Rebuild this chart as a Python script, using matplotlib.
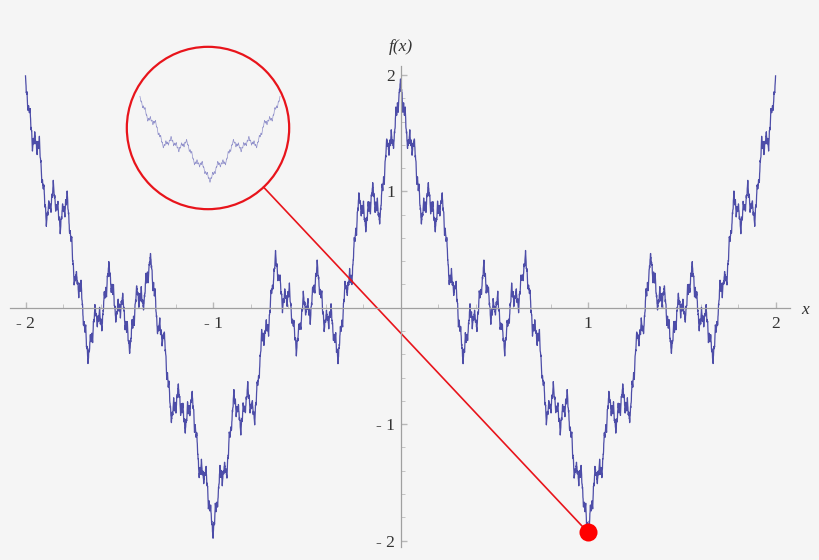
import numpy as np
import matplotlib
matplotlib.use("Agg")
import matplotlib.pyplot as plt
from matplotlib.patches import Circle
from matplotlib.ticker import FixedLocator

plt.rcParams['font.family'] = ['Liberation Serif', 'DejaVu Serif']

# Weierstrass function f(x) = sum a^n cos(b^n pi x)
a = 0.5
b = 3
n_terms = 8
x_range = [-2.0, 2.0]
n_points = 4000

# zoomed window shown in the magnifier (around x = 1)
zoom_center = 1.0
zoom_half = 1.0 / 9.0

# highlighted point
dot_x = 1.0
dot_y = -1.93

x_ticks = [-2, -1, 1, 2]
x_ticklabels = ['- 2', '- 1', '1', '2']
y_ticks = [-2, -1, 1, 2]
y_ticklabels = ['- 2', '- 1', '1', '2']
minor_ticks = np.round(np.arange(-2, 2.01, 0.2), 1)


def weierstrass(x):
    y = np.zeros_like(x)
    for n in range(n_terms):
        y += a ** n * np.cos(b ** n * np.pi * x)
    return y


x = np.linspace(x_range[0], x_range[1], n_points)
y = weierstrass(x)

xz = np.linspace(zoom_center - zoom_half, zoom_center + zoom_half, 3000)
yz = weierstrass(xz)

bg = '#f5f5f5'
fig = plt.figure(figsize=(8.2, 5.6), dpi=100, facecolor=bg)
ax = fig.add_axes([0, 0, 1, 1])
ax.set_facecolor(bg)

ax.plot(x, y, color='#4d4da8', lw=0.9)

ax.set_xlim(-2.136, 2.237)
ax.set_ylim(-2.167, 2.644)

for s in ['top', 'right']:
    ax.spines[s].set_visible(False)
ax.spines['bottom'].set_position(('data', 0))
ax.spines['left'].set_position(('data', 0))
ax.spines['bottom'].set_bounds(-2.083, 2.077)
ax.spines['left'].set_bounds(-2.052, 2.077)
for s in ['bottom', 'left']:
    ax.spines[s].set_color('#a0a0a0')
    ax.spines[s].set_linewidth(0.9)

ax.set_xticks(x_ticks)
ax.set_xticklabels(x_ticklabels)
ax.set_yticks(y_ticks)
ax.set_yticklabels(y_ticklabels)
ax.xaxis.set_minor_locator(FixedLocator(minor_ticks))
ax.yaxis.set_minor_locator(FixedLocator(minor_ticks))
ax.tick_params(which='major', direction='in', length=4.5, width=1.0,
               color='#b8b8b8', labelsize=12.5, labelcolor='#333333')
ax.tick_params(which='minor', direction='in', length=3, width=0.7,
               color='#c4c4c4')
ax.tick_params(axis='x', which='major', pad=6)
ax.tick_params(axis='y', which='major', pad=4)

ax.text(0.003, 2.24, 'f(x)', style='italic', fontsize=12.5,
        ha='center', va='center', color='#333333')
ax.text(2.157, -0.018, 'x', style='italic', fontsize=12.5,
        ha='center', va='center', color='#333333')

# magnifier inset
ax_in = fig.add_axes([126 / 820, 1 - 210 / 560, 164 / 820, 164 / 560])
ax_in.set_axis_off()
ax_in.patch.set_alpha(0)
ax_in.plot(xz, yz, color='#9494cc', lw=0.5)
# map curve into the circle
fx0, fx1 = 0.085, 0.939
fy0, fy1 = 0.169, 0.693
xspan = (xz[-1] - xz[0]) / (fx1 - fx0)
ax_in.set_xlim(xz[0] - fx0 * xspan, xz[0] + (1 - fx0) * xspan)
yspan = (yz.max() - yz.min()) / (fy1 - fy0)
ax_in.set_ylim(yz.min() - fy0 * yspan, yz.min() + (1 - fy0) * yspan)
ax_in.add_patch(Circle((0.5, 0.5), 0.495, transform=ax_in.transAxes,
                       fill=False, ec='#e8141b', lw=1.6, clip_on=False))

# connector line from circle edge to dot
fig.canvas.draw()
c = ax_in.transAxes.transform((0.5, 0.5))
r = ax_in.transAxes.transform((0.995, 0.5))[0] - c[0]
d = ax.transData.transform((dot_x, dot_y))
u = (d - c) / np.hypot(*(d - c))
edge = ax.transData.inverted().transform(c + r * u)
ax.plot([edge[0], dot_x], [edge[1], dot_y], color='#e8141b', lw=1.2)
ax.plot([dot_x], [dot_y], 'o', color='#ff0000', ms=13, mec='none')

fig.savefig('out.png', dpi=100, facecolor=bg)
